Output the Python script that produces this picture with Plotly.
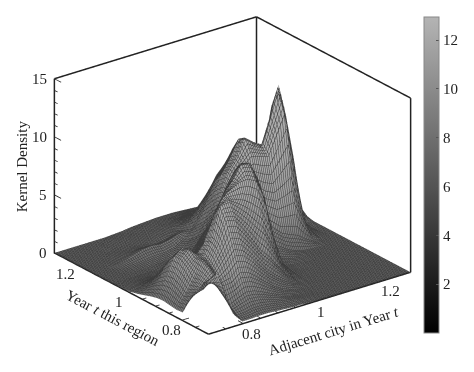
import plotly.graph_objects as go

x_vals = [0.700,0.724,0.748,0.773,0.797,0.821,0.845,0.869,0.893,0.918,0.942,0.966,0.990,
          1.014,1.038,1.063,1.087,1.111,1.135,1.159,1.183,1.208,1.232,1.256,1.280]
y_vals = list(x_vals)

# density, one row per y value, one column per x value
density = [
 [4.6,5,2.8,1,.2,.2,.25,.25,.2,.15,.1,.1,.05,0,0,0,0,0,0,0,0,0,0,0,0],
 [4,4.3,3.1,1.8,.5,.55,.7,.7,.6,.45,.35,.25,.15,.06,0,0,0,0,0,0,0,0,0,0,0],
 [3,3.1,3.9,2.7,.9,1.3,1.6,1.5,1.2,.85,.55,.3,.15,.07,0,0,0,0,0,0,0,0,0,0,0],
 [2.1,2.5,2.9,3.4,2.5,2.55,3.2,3,2.4,1.7,1.1,.65,.35,.15,.03,0,0,0,0,0,0,0,0,0,0],
 [.7,2,3,4,3.2,4.15,5.1,4.8,4,3,2.1,1.4,.85,.4,.13,.02,0,0,0,0,0,0,0,0,0],
 [.65,1.65,2.85,4.3,3.8,5.2,7,6.75,5.8,4.7,3.6,2.8,1.8,.87,.3,.06,0,0,0,0,0,0,0,0,0],
 [.73,2.05,3.5,4.2,4.2,5.5,8.1,8.2,7.6,6.9,6.1,5.25,3.65,1.8,.6,.13,.02,0,0,0,0,0,0,0,0],
 [.82,2.3,3.9,4.7,3.9,5.2,7,8.3,8.65,9,9,8.6,7,3.8,1,.23,.04,0,0,0,0,0,0,0,0],
 [.78,2.2,3.9,4.5,3.3,3.5,5,6.8,8.1,9,10.2,10,8.3,4.5,1.35,.4,.13,.05,0,0,0,0,0,0,0],
 [.63,1.77,3.15,3.6,2.6,2.6,3.5,5,6.55,8.15,9.3,9.4,8,4.6,1.55,.7,.4,.2,.09,.03,0,0,0,0,0],
 [.44,1.22,2.17,2.55,2.15,1.9,2.5,3.5,5,6.6,7.75,8.1,6.4,3.8,2.1,1.5,1.1,.62,.27,.09,.02,0,0,0,0],
 [.26,.72,1.28,1.5,1.25,1.15,1.55,2.4,3.55,4.95,6.05,6.65,5.8,4.3,3.4,3.15,2.55,1.85,1.5,1.2,.6,.16,.02,0,0],
 [.13,.36,.64,.74,.6,.6,.9,1.5,2.3,3.5,4.55,5.45,5.6,5.4,5.5,5.7,5.05,4.7,5,5.4,2.95,.82,.12,0,0],
 [.06,.16,.28,.32,.27,.25,.4,.79,1.31,2.3,3.35,4.55,5.65,6.65,7.6,8.25,8,7.8,9.5,11.2,7,1.8,.27,0,0],
 [.02,.06,.1,.12,.12,.13,.22,.43,.71,1.5,2.45,3.8,5.35,7,8,9.5,8.9,8.5,10.8,13.2,8,1.97,.3,0,0],
 [0,0,0,0,0,0,.11,.21,.35,1,1.8,3,4.7,6.5,7.6,9.1,8.6,6.8,7.5,11.2,10,4.5,1,.1,0],
 [0,0,0,0,0,0,.05,.1,.16,.65,1.3,2.4,3.95,5.65,6.6,7.9,7.2,4.7,4.7,7.5,9.3,7,3.2,.9,.1],
 [0,0,0,.05,.1,.15,.25,.3,.3,.5,1,1.73,3.02,4.5,5.73,6.4,5.3,3.4,2.4,3.9,6,6.5,4.5,2.2,.5],
 [0,0,0,.15,.35,.6,.8,.85,.75,.9,1.1,1.3,2.28,3.4,4.3,4.8,4,2.4,1.2,1.8,3.3,4.2,3.8,2.5,1],
 [0,0,0,.05,.2,.35,.45,.45,.4,.45,.7,1,1.6,2.35,3,3.3,2.8,1.7,.9,1,1.6,2.3,2.4,1.8,1],
 [0,0,0,0,.1,.2,.3,.35,.4,.45,.55,.75,1.1,1.55,1.95,2.15,1.8,1.1,.6,.5,.8,1.2,1.3,1,.5],
 [0,0,0,0,0,.1,.2,.3,.35,.4,.5,.6,.75,1,1.2,1.3,1.1,.7,.4,.3,.35,.5,.6,.4,.2],
 [0,0,0,0,0,.05,.15,.25,.3,.35,.4,.5,.55,.65,.75,.8,.65,.45,.3,.2,.15,.2,.2,.15,.05],
 [0,0,0,0,0,0,.1,.15,.2,.3,.35,.4,.45,.45,.5,.5,.4,.3,.2,.1,.05,0,0,0,0],
 [0,0,0,0,0,0,0,.05,.1,.2,.25,.3,.35,.35,.35,.3,.25,.2,.1,.05,0,0,0,0,0],
]

x_ticks = [0.8, 1.0, 1.2]
y_ticks = [0.8, 1.0, 1.2]
z_ticks = [0, 5, 10, 15]
x_tick_text = ["0.8", "1", "1.2"]
y_tick_text = ["0.8", "1", "1.2"]
z_tick_text = ["0", "5", "10", "15"]
minor_xy = [0.75, 0.85, 0.9, 0.95, 1.05, 1.1, 1.15, 1.25]
minor_z = [1, 2, 3, 4, 6, 7, 8, 9, 11, 12, 13, 14]
bar_ticks = [2, 4, 6, 8, 10, 12]

xmin, xmax = 0.7, 1.28
ymin, ymax = 0.7, 1.28
zmin, zmax = 0, 15
cmax = 12.95
PAD = 0.001
FONT = "Liberation Serif"
INK = "#222222"

fig = go.Figure()

fig.add_trace(go.Surface(
    x=x_vals, y=y_vals, z=density, cmin=0, cmax=cmax, showscale=False,
    colorscale=[[0, "#6e6e6e"], [0.25, "#9a9a9a"], [0.6, "#a8a8a8"], [1, "#b0b0b0"]],
    lighting=dict(ambient=1, diffuse=0, specular=0, roughness=1, fresnel=0),
    contours=dict(
        x=dict(show=True, start=xmin, end=xmax, size=0.0055, color="#3c3c3c", width=1),
        y=dict(show=True, start=ymin, end=ymax, size=0.0055, color="#3c3c3c", width=1),
        z=dict(show=False)),
    hoverinfo="skip",
))

# box frame
fx, fy, fz = [], [], []
def seg(a, b):
    fx.extend([a[0], b[0], None]); fy.extend([a[1], b[1], None]); fz.extend([a[2], b[2], None])
seg((xmin, ymax, zmin), (xmin, ymin, zmin))
seg((xmin, ymin, zmin), (xmax, ymin, zmin))
seg((xmin, ymax, zmin), (xmin, ymax, zmax))
seg((xmax, ymin, zmin), (xmax, ymin, zmax))
seg((xmax, ymax, zmin), (xmax, ymax, zmax))
seg((xmin, ymax, zmax), (xmax, ymax, zmax))
seg((xmax, ymax, zmax), (xmax, ymin, zmax))
fig.add_trace(go.Scatter3d(x=fx, y=fy, z=fz, mode="lines", line=dict(color=INK, width=3),
                           hoverinfo="skip", showlegend=False))

# tick marks
tx, ty, tz = [], [], []
def tick(a, b):
    tx.extend([a[0], b[0], None]); ty.extend([a[1], b[1], None]); tz.extend([a[2], b[2], None])
for v in x_ticks:
    tick((v, ymin, 0), (v, ymin + 0.02, 0))
for v in y_ticks:
    tick((xmin, v, 0), (xmin + 0.02, v, 0))
for v in z_ticks:
    tick((xmin, ymax, v), (xmin, ymax - 0.025, v))
for v in minor_xy:
    tick((v, ymin, 0), (v, ymin + 0.012, 0))
    tick((xmin, v, 0), (xmin + 0.012, v, 0))
for v in minor_z:
    tick((xmin, ymax, v), (xmin, ymax - 0.012, v))
fig.add_trace(go.Scatter3d(x=tx, y=ty, z=tz, mode="lines", line=dict(color=INK, width=1.5),
                           hoverinfo="skip", showlegend=False))

# colorbar carrier
fig.add_trace(go.Scatter3d(
    x=[xmin], y=[ymax], z=[0], mode="markers", hoverinfo="skip", showlegend=False,
    marker=dict(size=1, color=[0], cmin=0, cmax=cmax, showscale=True,
                colorscale=[[0, "#000000"], [1, "#b4b4b4"]],
                colorbar=dict(x=424/474, xanchor="left", xpad=0, ypad=0, y=1-17/372, yanchor="top",
                              len=316/372, lenmode="fraction", thickness=15, thicknessmode="pixels",
                              outlinecolor="#888888", outlinewidth=1,
                              tickmode="array", tickvals=bar_ticks, ticktext=[str(t) for t in bar_ticks],
                              ticks="inside", ticklen=3, tickcolor="#555555",
                              tickfont=dict(family=FONT, size=15, color=INK)))))

ann = []
tf = dict(family=FONT, size=15, color=INK)
for v, s in zip(x_ticks, x_tick_text):
    ann.append(dict(x=v, y=ymin, z=0, text=s, showarrow=False, xshift=8, yshift=-10, font=tf))
for v, s in zip(y_ticks, y_tick_text):
    ann.append(dict(x=xmin, y=v, z=0, text=s, showarrow=False, xshift=-10, yshift=-10, font=tf))
for v, s in zip(z_ticks, z_tick_text):
    ann.append(dict(x=xmin, y=ymax, z=v, text=s, showarrow=False, xanchor="right", xshift=-5, font=tf))
ann.append(dict(x=1.058, y=ymin, z=0, text="Adjacent city in Year <i>t</i>", showarrow=False,
                textangle=-17, xshift=0, yshift=-35, font=tf))
ann.append(dict(x=xmin, y=1.06, z=0, text="Year <i>t</i> this region", showarrow=False,
                textangle=27.7, xshift=0, yshift=-34, font=tf))
ann.append(dict(x=xmin, y=ymax, z=7.5, text="Kernel Density", showarrow=False,
                textangle=-90, xshift=-32, font=tf))

hidden = dict(showgrid=False, zeroline=False, showline=False, showbackground=False,
              showticklabels=False, ticks="", title=dict(text=""), showspikes=False)
K = 3.0
S = 1.453
D = (-0.555, -0.728, 0.402)
fig.update_layout(
    width=474, height=372, autosize=False, showlegend=False,
    margin=dict(l=0, r=0, t=0, b=0), paper_bgcolor="white",
    font=dict(family=FONT),
    scene=dict(
        domain=dict(x=[0, 0.981], y=[0.056, 1]),
        xaxis=dict(range=[xmin-PAD, xmax+PAD], **hidden),
        yaxis=dict(range=[ymin-PAD, ymax+PAD], **hidden),
        zaxis=dict(range=[zmin-0.02, zmax+0.02], **hidden),
        aspectmode="manual", aspectratio=dict(x=S, y=S, z=0.748*S),
        camera=dict(projection=dict(type="orthographic"),
                    up=dict(x=0, y=0, z=1), center=dict(x=0, y=0, z=0),
                    eye=dict(x=D[0]*K, y=D[1]*K, z=D[2]*K)),
        annotations=ann,
    ),
)
fig.write_html("out.html", config=dict(displayModeBar=False),
               post_script="document.body.style.margin='0';document.documentElement.style.overflow='hidden';")
